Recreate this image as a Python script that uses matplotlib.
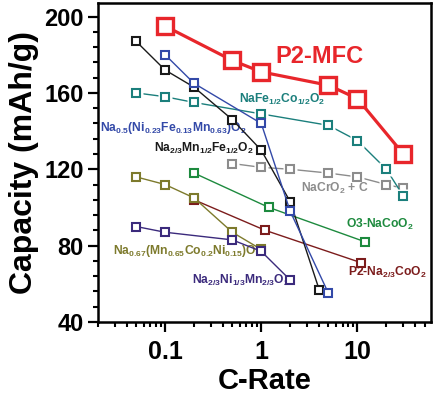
import numpy as np
import matplotlib
matplotlib.use("Agg")
from matplotlib import pyplot as plt
from matplotlib.ticker import FixedLocator, NullFormatter, LogLocator

plt.rcParams['font.family'] = ['Liberation Sans', 'DejaVu Sans']
plt.rcParams['font.weight'] = 'bold'
plt.rcParams['mathtext.fontset'] = 'custom'
plt.rcParams['mathtext.rm'] = 'Liberation Sans:bold'
plt.rcParams['mathtext.it'] = 'Liberation Sans:bold'
plt.rcParams['mathtext.bf'] = 'Liberation Sans:bold'
plt.rcParams['mathtext.default'] = 'rm'

# data
mfc_rate = [0.1, 0.5, 1, 5, 10, 30]
mfc_cap = [195, 177, 171, 164, 157, 128]

nafeco_rate = [0.05, 0.1, 0.2, 1, 5, 10, 20, 30]
nafeco_cap = [160, 158, 155, 149, 143, 135, 120, 106]

nanifemn_rate = [0.1, 0.2, 1, 2, 5]
nanifemn_cap = [180, 165, 144, 98, 55]

namnfe_rate = [0.05, 0.1, 0.2, 0.5, 1, 2, 4]
namnfe_cap = [187, 172, 163, 146, 130, 103, 57]

nacro_rate = [0.5, 1, 2, 5, 10, 20, 30]
nacro_cap = [123, 121, 120, 118, 116, 112, 110]

o3_rate = [0.2, 1.2, 12]
o3_cap = [118, 100, 82]

p2co_rate = [0.2, 1.1, 11]
p2co_cap = [104, 88, 71]

namncoNi_rate = [0.05, 0.1, 0.2, 0.5, 1]
namncoNi_cap = [116, 112, 105, 87, 78]

nanimn_rate = [0.05, 0.1, 0.5, 1, 2]
nanimn_cap = [90, 87, 83, 77, 62]

fig = plt.figure(figsize=(4.33, 3.97), dpi=100)
ax = fig.add_axes([0.226, 0.189, 0.769, 0.803])


def series(x, y, color, halo=False, big=False, z=3):
    if big:
        ax.plot(x, y, '-', color=color, lw=2.3, zorder=z)
        ax.plot(x, y, 's', ms=11.5, mfc='white', mec=color, mew=2.4, zorder=z + 0.2)
        return
    ax.plot(x, y, '-', color=color, lw=1.0, zorder=z)
    if halo:
        ax.plot(x, y, 's', ms=9.5, mfc='white', mec='none', zorder=z + 0.1)
    ax.plot(x, y, 's', ms=5.5, mfc='white', mec=color, mew=1.5, zorder=z + 0.2)


teal = '#1b7f7c'
gray = '#8c8c8c'
blue = '#3349a8'
black = '#1a1a1a'
olive = '#7d7a2c'
darkred = '#7c1c1c'
green = '#1d8a3e'
purple = '#3b2a7c'
red = '#e8262b'

series(nacro_rate, nacro_cap, gray, halo=True, z=2)
series(nafeco_rate, nafeco_cap, teal, halo=True, z=3)
series(o3_rate, o3_cap, green, z=4)
series(p2co_rate, p2co_cap, darkred, z=4)
series(namncoNi_rate, namncoNi_cap, olive, z=5)
series(nanimn_rate, nanimn_cap, purple, z=5)
series(namnfe_rate, namnfe_cap, black, z=6)
series(nanifemn_rate, nanifemn_cap, blue, z=7)
series(mfc_rate, mfc_cap, red, big=True, z=9)

fs = 8.7
ax.text(1.41, 175.9, 'P2-MFC', color=red, fontsize=17, fontweight='bold')
ax.text(0.594, 155.0, r'NaFe$_{1/2}$Co$_{1/2}$O$_2$', color=teal, fontsize=fs)
ax.text(0.021, 139.8, r'Na$_{0.5}$(Ni$_{0.23}$Fe$_{0.13}$Mn$_{0.63}$)O$_2$', color=blue, fontsize=fs)
ax.text(0.0769, 129.3, r'Na$_{2/3}$Mn$_{1/2}$Fe$_{1/2}$O$_2$', color=black, fontsize=fs)
ax.text(2.57, 107.9, r'NaCrO$_2$ + C', color=gray, fontsize=fs)
ax.text(7.59, 89.5, r'O3-NaCoO$_2$', color=green, fontsize=fs)
ax.text(7.96, 63.9, r'P2-Na$_{2/3}$CoO$_2$', color=darkred, fontsize=fs)
ax.text(0.0287, 75.4, r'Na$_{0.67}$(Mn$_{0.65}$Co$_{0.2}$Ni$_{0.15}$)O$_2$', color=olive, fontsize=fs)
ax.text(0.192, 59.7, r'Na$_{2/3}$Ni$_{1/3}$Mn$_{2/3}$O$_2$', color=purple, fontsize=fs)

ax.set_xscale('log')
ax.set_xlim(0.02, 58)
ax.set_ylim(40, 207)

ax.xaxis.set_major_locator(FixedLocator([0.1, 1, 10]))
ax.set_xticklabels(['0.1', '1', '10'])
ax.xaxis.set_minor_locator(LogLocator(base=10, subs=np.arange(2, 10)))
ax.xaxis.set_minor_formatter(NullFormatter())
ax.set_yticks([40, 80, 120, 160, 200])
ax.set_yticks(np.arange(40, 208, 8), minor=True)

ax.tick_params(which='major', direction='out', length=7, width=1.6, labelsize=17, pad=3)
ax.tick_params(axis='x', which='major', labelsize=18, pad=6)
ax.tick_params(which='minor', direction='out', length=3.5, width=1.5)
for s in ax.spines.values():
    s.set_linewidth(1.8)

ax.set_xlabel('C-Rate', fontsize=21, fontweight='bold', labelpad=2)
ax.set_ylabel('Capacity (mAh/g)', fontsize=23, fontweight='bold', labelpad=4)

plt.savefig('out.png', dpi=100)
